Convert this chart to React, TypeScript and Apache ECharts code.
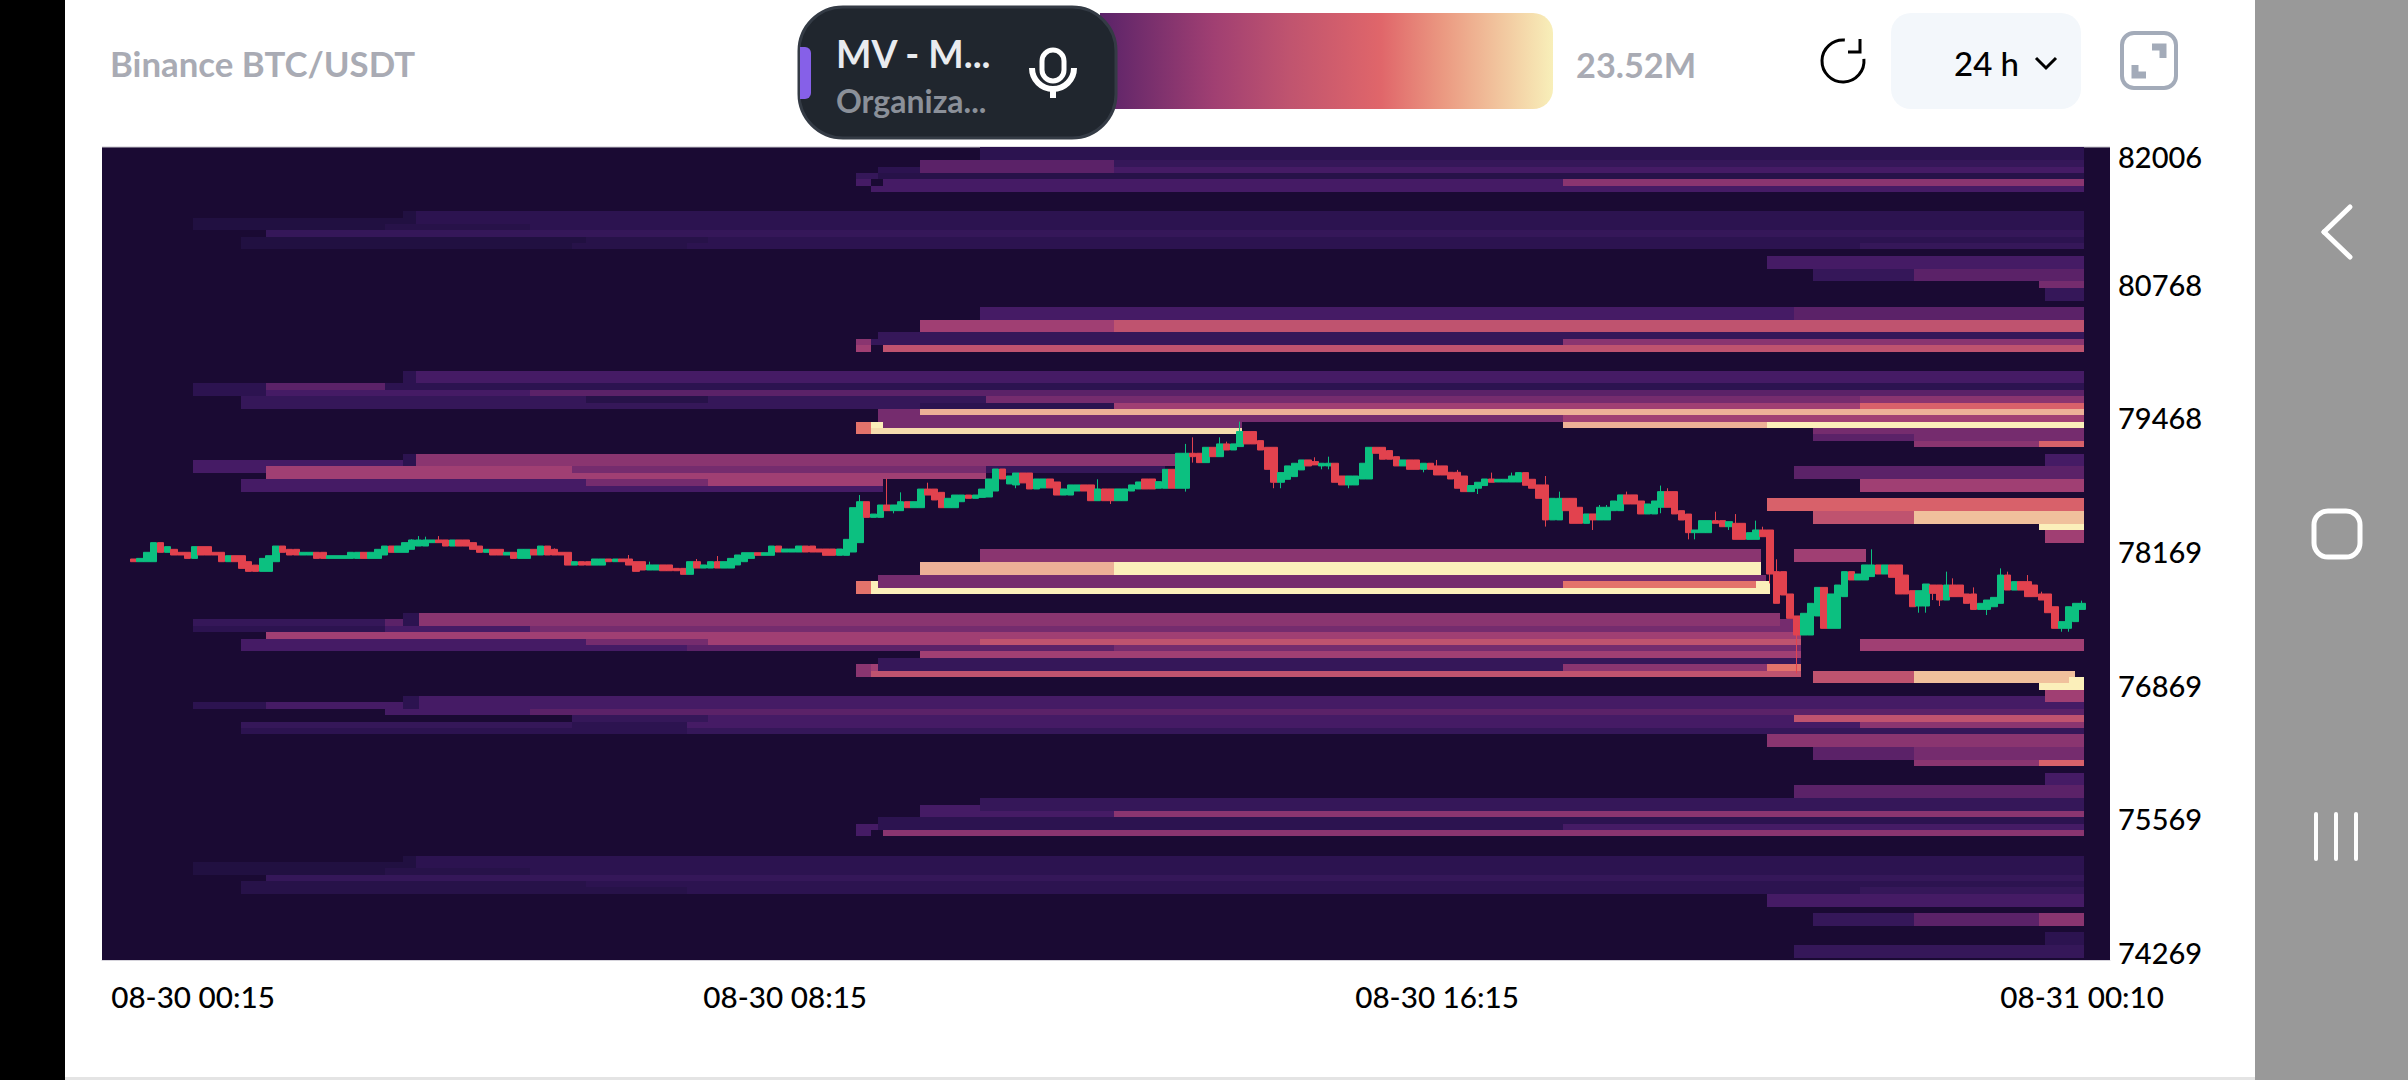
import React, { useEffect, useRef } from "react";
import * as echarts from "echarts";

// ---------- tick labels ----------
const priceTicks = [82006, 80768, 79468, 78169, 76869, 75569, 74269];
const timeTicks = [8.8, 96, 192, 287];
const timeLabels = ["08-30 00:15", "08-30 08:15", "08-30 16:15", "08-31 00:10"];

// ---------- 5-minute candles (index 0 = 08-30 00:15) ----------
const opens = [
  78095,78069,78069,78069,78254,78160,78189,78160,78160,78101,78215,78215,78160,78160,78069,78127,78127,78069,78036,77975,
  77975,78069,78221,78189,78189,78134,78134,78160,78160,78101,78101,78101,78101,78101,78160,78101,78101,78134,78221,78160,
  78160,78189,78221,78221,78254,78280,78280,78221,78280,78280,78254,78221,78160,78189,78189,78134,78160,78101,78101,78189,
  78134,78221,78189,78160,78160,78036,78069,78069,78036,78036,78095,78069,78095,78095,78069,78069,77988,77988,78037,78037,
  78004,78004,77946,78069,78007,78007,78069,78007,78007,78037,78069,78101,78156,78131,78131,78221,78163,78163,78163,78221,
  78221,78192,78192,78192,78131,78131,78163,78254,78652,78500,78500,78620,78565,78565,78652,78594,78594,78775,78775,78743,
  78594,78594,78652,78717,78685,78694,78698,78756,78970,78825,78815,78931,78931,78776,78786,78873,78844,78717,78717,78756,
  78815,78815,78662,78776,78776,78662,78662,78756,78776,78873,78873,78783,78783,78967,78783,78783,79123,79123,79032,79181,
  79090,79214,79155,79188,79334,79334,79246,79181,79181,78841,78870,78896,78961,79058,79042,79000,79000,79026,78902,78815,
  78815,78873,78873,79181,79181,79149,79090,79000,79058,79058,78967,79026,79000,79000,78938,78938,78902,78750,78783,78809,
  78873,78844,78844,78844,78844,78935,78870,78815,78815,78475,78475,78685,78685,78598,78442,78533,78475,78475,78565,78565,
  78718,78718,78659,78533,78533,78598,78750,78750,78565,78532,78351,78351,78351,78468,78468,78409,78442,78442,78286,78286,
  78377,78377,77972,77972,77755,77541,77356,77356,77541,77819,77421,77421,77729,77972,77891,77891,77924,78037,77949,78037,
  78037,77939,77787,77638,77638,77842,77842,77696,77842,77842,77755,77755,77605,77605,77631,77664,77939,77793,77875,77875,
  77842,77755,77755,77631,77421,77421,77486,77605,
];
const closes = [
  78069,78101,78160,78254,78160,78215,78134,78134,78101,78215,78134,78134,78134,78069,78127,78069,78004,77975,77975,78101,
  78127,78221,78160,78134,78134,78160,78160,78101,78101,78127,78127,78127,78160,78160,78101,78160,78189,78221,78160,78221,
  78254,78280,78280,78280,78280,78254,78221,78280,78221,78221,78189,78160,78189,78134,78134,78160,78101,78189,78189,78134,
  78221,78134,78134,78134,78036,78069,78036,78036,78095,78095,78069,78095,78069,78036,77975,77988,78037,78037,77981,77981,
  77981,77946,78069,78007,78037,78069,78007,78069,78101,78134,78156,78156,78131,78156,78221,78163,78192,78192,78221,78163,
  78163,78163,78131,78131,78192,78286,78594,78652,78500,78532,78620,78565,78620,78652,78594,78652,78775,78717,78669,78594,
  78685,78717,78717,78685,78717,78775,78873,78970,78873,78902,78931,78835,78776,78873,78873,78786,78717,78776,78815,78815,
  78756,78662,78776,78662,78662,78776,78776,78815,78844,78776,78776,78847,78967,78783,79123,79123,79090,79032,79181,79090,
  79214,79155,79214,79334,79214,79214,79155,78967,78841,78935,79000,79026,79058,79000,79010,79026,79026,78841,78815,78902,
  78902,79026,79181,79123,79065,79065,79000,79058,78967,78967,79026,78967,78912,78912,78873,78783,78750,78809,78841,78873,
  78841,78870,78870,78902,78935,78812,78783,78685,78475,78685,78685,78565,78442,78442,78533,78475,78598,78598,78659,78718,
  78630,78630,78533,78630,78659,78750,78598,78533,78474,78351,78377,78468,78468,78442,78409,78458,78286,78286,78351,78377,
  78312,77949,77664,77745,77518,77356,77567,77664,77819,77421,77755,77842,77972,77891,77949,78037,78037,77949,78037,77917,
  77755,77755,77631,77787,77852,77761,77696,77842,77729,77729,77664,77605,77664,77696,77722,77939,77793,77875,77793,77729,
  77729,77696,77573,77421,77486,77631,77664,77664,
];
const wickHighs = [
  [41,78286],[42,78318],[43,78312],[45,78318],[62,78198],[73,78134],[76,78069],[83,78095],[86,78124],[107,78717],
  [111,78876],[113,78743],[117,78837],[142,78870],[155,79214],[156,79278],[160,79278],[161,79236],[163,79431],[174,79084],
  [176,79090],[192,79058],[195,78961],[200,78935],[203,78935],[208,78902],[210,78750],[216,78620],[217,78620],[220,78750],
  [225,78809],[226,78783],[233,78555],[236,78532],[239,78468],[240,78409],[242,78092],[256,78189],[267,77972],[268,77907],
  [271,77819],[275,78004],[276,77972],[279,77939],[281,77777],[287,77690],
];
const wickLows = [
  [111,78630],[112,78539],[130,78783],[144,78630],[155,78750],[156,79032],[168,78783],[169,78783],[175,78967],[176,78967],
  [179,78783],[190,78938],[198,78727],[208,78410],[215,78377],[225,78540],[229,78286],[230,78286],[235,78377],[241,77858],
  [245,76983],[263,77573],[264,77573],[265,77696],[266,77638],[273,77550],[284,77388],[285,77388],
];

// ---------- liquidation heat: price bucket, first candle, last candle, intensity ----------
const bandsAbove = [
  [0,124.7,287.2,3],[1,124.7,287.2,3],[2,115.8,144.4,6],[2,144.4,287.2,4],[3,109.6,115.8,3],[3,115.8,144.4,6],[3,144.4,287.2,5],
  [4,106.5,109.6,4],[4,109.6,287.2,2],[5,106.5,108.7,5],[5,110.4,210.6,5],[5,210.6,287.2,8],[6,108.7,287.2,5],
  [10,39.7,41.7,1],[10,41.7,287.2,3],[11,8.8,41.7,1],[11,41.7,287.2,3],[12,8.8,37,1],[12,37,58.4,2],[12,58.4,287.2,3],
  [13,19.5,287.2,4],[14,15.9,66.6,1],[14,66.6,84.7,2],[14,84.7,287.2,3],[15,15.9,64.6,1],[15,64.6,81.6,2],[15,81.6,254.3,3],[15,254.3,287.2,4],
  [17,240.6,287.2,5],[18,240.6,287.2,5],[19,247.3,262.2,4],[19,262.2,287.2,6],[20,247.3,262.2,4],[20,262.2,287.2,6],
  [21,280.6,287.2,7],[22,281.5,287.2,4],[23,281.5,287.2,4],
  [25,124.7,244.5,5],[25,244.5,287.2,6],[26,124.7,244.5,5],[26,244.5,287.2,6],
  [27,115.8,144.4,9],[27,144.4,287.2,10],[28,115.8,144.4,9],[28,144.4,287.2,10],[29,109.6,287.2,4],
  [30,106.5,108.7,8],[30,108.7,210.6,4],[30,210.6,287.2,8],[31,106.5,108.7,9],[31,110.4,287.2,10],
];
const bandsNearHigh = [
  [35,39.7,41.7,3],[35,41.7,287.2,5],[36,39.7,41.7,3],[36,41.7,287.2,5],
  [37,8.8,19.5,3],[37,19.5,37,6],[37,37,287.2,3],[38,8.8,19.5,3],[38,19.5,58.4,5],[38,58.4,287.2,6],
  [39,15.9,66.6,4],[39,66.6,84.7,2],[39,84.7,125.5,4],[39,125.5,254.3,7],[39,254.3,287.2,8],
  [40,15.9,115.8,4],[40,115.8,144.4,3],[40,144.4,254.3,9],[40,254.3,287.2,11],
  [41,109.6,115.8,7],[41,115.8,287.2,13],[42,109.6,210.6,7],[42,210.6,287.2,9],
  [43,106.5,108.7,12],[43,108.7,110.4,15],[43,110.4,163.3,7],[43,210.6,240.6,13],[43,240.6,287.2,15],
  [44,106.5,108.7,12],[44,108.7,163.3,14],[44,247.3,287.2,7],
  [45,247.3,262.2,6],[45,262.2,287.2,7],[46,262.2,280.6,8],[46,280.6,287.2,11],
  [48,39.7,41.7,3],[48,41.7,153.6,8],[48,281.5,287.2,5],
  [49,8.8,39.7,5],[49,39.7,41.7,3],[49,41.7,153.6,8],[49,281.5,287.2,5],
  [50,8.8,19.5,5],[50,19.5,64.6,9],[50,64.6,125.5,7],[50,125.5,152,4],[50,244.5,287.2,6],
  [51,19.5,64.6,9],[51,64.6,125.5,9],[51,244.5,287.2,6],
  [52,15.9,66.6,5],[52,66.6,84.7,7],[52,84.7,110.4,9],[52,254.3,287.2,9],[53,15.9,110.4,5],[53,254.3,287.2,9],
  [55,240.6,287.2,11],[56,240.6,287.2,11],[57,247.3,262.2,10],[57,262.2,287.2,16],[58,247.3,262.2,10],[58,262.2,287.2,16],
  [59,280.6,287.2,15],[60,281.5,287.2,9],[61,281.5,287.2,9],
];
const bandsNearPrice = [
  [63,124.7,239.7,8],[63,244.5,255.2,9],[64,124.7,239.7,8],[64,244.5,255.2,9],
  [65,115.8,144.4,13],[65,144.4,239.7,15],[66,115.8,144.4,13],[66,144.4,239.7,15],[67,109.6,240.5,7],
  [68,106.5,108.7,12],[68,108.7,109.6,15],[68,109.6,210.6,7],[68,210.6,239,12],[68,239,241,15],
  [69,106.5,108.7,12],[69,108.7,241,15],
  [73,39.7,42,3],[73,42,242.5,8],[74,8.8,37,4],[74,37,39.7,6],[74,39.7,42,3],[74,42,242.5,8],[74,242.5,244.5,7],
  [75,8.8,37,3],[75,37,58.4,5],[75,58.4,244.5,7],
  [76,19.5,66,9],[76,66,245.6,9],[77,15.9,66.6,5],[77,66.6,84.7,7],[77,84.7,124.7,9],[77,124.7,245.6,10],
  [77,254.3,287.2,9],[78,254.3,287.2,9],
  [78,15.9,81.6,5],[78,81.6,144.4,6],[78,144.4,245.6,7],[79,115.8,245.6,9],[80,109.6,245.6,4],
  [81,106.5,108.7,8],[81,108.7,109.6,9],[81,109.6,210.6,4],[81,210.6,240.6,8],[81,240.6,245.6,12],
  [82,106.5,108.7,8],[82,108.7,110.4,10],[82,110.4,245.6,10],
  [82,247.3,262.2,10],[82,262.2,286,16],[83,247.3,262.2,10],[83,262.2,285,16],[83,285,287.2,15],[84,280.6,287.2,15],[85,281.5,287.2,9],
];
const bandsBelow = [
  [86,39.7,42,3],[86,42,281.5,5],[86,281.5,287.2,9],[87,8.8,19.5,3],[87,19.5,39.7,5],[87,39.7,42,3],[87,42,287.2,5],
  [88,37,58.4,5],[88,58.4,287.2,6],[89,64.6,84.7,4],[89,84.7,244.5,5],[89,244.5,287.2,10],
  [90,15.9,64.6,4],[90,64.6,81.6,3],[90,81.6,254.3,5],[90,254.3,287.2,8],[91,15.9,81.6,3],[91,81.6,287.2,4],
  [92,240.6,287.2,8],[93,240.6,287.2,8],[94,247.3,262.2,6],[94,262.2,287.2,7],[95,247.3,262.2,6],[95,262.2,287.2,7],
  [96,262.2,280.6,8],[96,280.6,287.2,11],[98,281.5,287.2,5],[99,281.5,287.2,5],[100,244.5,287.2,6],[101,244.5,287.2,6],
  [102,124.7,287.2,4],[103,115.8,124.7,5],[103,124.7,287.2,4],[104,115.8,144.4,5],[104,144.4,287.2,8],[105,109.6,287.2,3],
  [106,106.5,109.6,5],[106,109.6,210.6,3],[106,210.6,287.2,5],[107,106.5,108.7,5],[107,110.4,287.2,8],
  [111,39.7,41.7,1],[111,41.7,287.2,3],[112,8.8,41.7,1],[112,41.7,287.2,3],[113,8.8,37,1],[113,37,58.4,2],[113,58.4,287.2,3],
  [114,19.5,287.2,4],[115,15.9,66.6,2],[115,66.6,84.7,3],[115,84.7,287.2,3],[116,15.9,81.6,2],[116,81.6,254.3,3],[116,254.3,287.2,4],
  [117,240.6,287.2,5],[118,240.6,287.2,5],[120,247.3,262.2,4],[120,262.2,280.6,6],[120,280.6,287.2,8],
  [121,247.3,262.2,4],[121,262.2,280.6,6],[121,280.6,287.2,8],[123,281.5,287.2,3],[124,281.5,287.2,3],[125,244.5,287.2,4],[126,244.5,287.2,4],
];

const heatPalette = ["#1a0a33","#211041","#271249","#2c1350","#351759","#451b65","#5b2268","#752c6e","#8a3570","#a03f73","#bf536f","#d8616a","#e3736b","#edb097","#f5dcae","#fbefba","#f0c09c"];
const bucketTop = 82097;
const bucketSize = 62.03;

const FONT = "Lato, Roboto, sans-serif";

function buildOption() {
  const candles = closes.map((c, i) => {
    const o = opens[i];
    const hi = wickHighs.find((w) => w[0] === i);
    const lo = wickLows.find((w) => w[0] === i);
    return [i, o, c, lo ? lo[1] : Math.min(o, c), hi ? hi[1] : Math.max(o, c)];
  });
  const bands = [...bandsAbove, ...bandsNearHigh, ...bandsNearPrice, ...bandsBelow];
  const legendFill = new echarts.graphic.LinearGradient(0, 0, 1, 0, [
    { offset: 0, color: "#5a2369" },
    { offset: 0.25, color: "#a03f72" },
    { offset: 0.42, color: "#c0546f" },
    { offset: 0.62, color: "#e0666a" },
    { offset: 0.76, color: "#eb9a82" },
    { offset: 1, color: "#f8efb9" },
  ]);
  const bandStroke = { fill: "none", stroke: "#ffffff", lineCap: "round" };
  const greyText = { fill: "#a9abb4", textVerticalAlign: "middle" };
  return {
    animation: false,
    grid: { left: 102, top: 147, width: 2008, height: 813, show: true, backgroundColor: "#1a0a33", borderWidth: 0 },
    xAxis: {
      type: "value", min: -4.61, max: 291.1, splitLine: { show: false },
      axisLine: { show: true, lineStyle: { color: "#d6d4dc", width: 1 } },
      axisTick: { show: false },
      axisLabel: {
        customValues: timeTicks, margin: 21, color: "#000000",
        fontFamily: FONT, fontSize: 29.7, fontWeight: 500,
        formatter: (v: number) => timeLabels[timeTicks.indexOf(v)] ?? "",
      },
    },
    yAxis: {
      type: "value", position: "right", min: 74196, max: 82101, splitLine: { show: false },
      axisLine: { show: false }, axisTick: { show: false },
      axisLabel: {
        customValues: priceTicks, margin: 8, color: "#000000", fontFamily: FONT, fontSize: 29, fontWeight: 500,
        padding: [0, 0, 6, 0], formatter: (v: number) => String(v),
      },
    },
    series: [
      {
        type: "custom", silent: true, z: 1, data: bands, encode: { x: [1, 2], y: 0 },
        renderItem: (_p: any, api: any) => {
          const r = api.value(0);
          const tl = api.coord([api.value(1), bucketTop - r * bucketSize]);
          const br = api.coord([api.value(2), bucketTop - (r + 1) * bucketSize]);
          const x = Math.round(tl[0]), y = Math.round(tl[1]);
          return {
            type: "rect",
            shape: { x, y, width: Math.round(br[0]) - x, height: Math.round(br[1]) - y },
            style: { fill: heatPalette[api.value(3)] },
          };
        },
      },
      {
        type: "candlestick", silent: true, z: 3, barWidth: 7, data: candles,
        encode: { x: 0, y: [1, 2, 3, 4] },
        itemStyle: { color: "#0cc080", color0: "#e2424e", borderColor: "#0cc080", borderColor0: "#e2424e", borderWidth: 1 },
      },
    ],
    graphic: [
      // device frame
      { type: "rect", silent: true, shape: { x: 0, y: 0, width: 65, height: 1080 }, style: { fill: "#000000" } },
      { type: "rect", silent: true, shape: { x: 2255, y: 0, width: 153, height: 1080 }, style: { fill: "#999999" } },
      { type: "rect", silent: true, shape: { x: 65, y: 1077, width: 2190, height: 3 }, style: { fill: "#e4e4e4" } },
      { type: "line", silent: true, shape: { x1: 2350, y1: 207, x2: 2324, y2: 232 }, style: { ...bandStroke, lineWidth: 5 } },
      { type: "line", silent: true, shape: { x1: 2324, y1: 232, x2: 2350, y2: 257 }, style: { ...bandStroke, lineWidth: 5 } },
      { type: "rect", silent: true, shape: { x: 2314, y: 511, width: 46, height: 46, r: 14 }, style: { ...bandStroke, lineWidth: 5 } },
      { type: "line", silent: true, shape: { x1: 2316, y1: 814, x2: 2316, y2: 859 }, style: { ...bandStroke, lineWidth: 4 } },
      { type: "line", silent: true, shape: { x1: 2336, y1: 814, x2: 2336, y2: 859 }, style: { ...bandStroke, lineWidth: 4 } },
      { type: "line", silent: true, shape: { x1: 2356, y1: 814, x2: 2356, y2: 859 }, style: { ...bandStroke, lineWidth: 4 } },
      // plot top edge
      { type: "line", silent: true, shape: { x1: 102, y1: 147, x2: 2110, y2: 147 }, style: { stroke: "#c6c4cc", lineWidth: 1 } },
      // header
      { type: "text", silent: true, x: 110, y: 63, style: { ...greyText, font: `700 34.8px ${FONT}`, text: "Binance BTC/USDT" } },
      { type: "rect", silent: true, shape: { x: 1100, y: 13, width: 453, height: 96, r: [0, 20, 20, 0] }, style: { fill: legendFill } },
      { type: "text", silent: true, x: 1576, y: 64, style: { ...greyText, font: `700 34.3px ${FONT}`, text: "23.52M" } },
      { type: "rect", silent: true, shape: { x: 799, y: 7, width: 317, height: 131, r: 44 }, style: { fill: "#20262e", stroke: "#343b45", lineWidth: 3 } },
      { type: "rect", silent: true, shape: { x: 800, y: 47, width: 11, height: 52, r: [0, 6, 6, 0] }, style: { fill: "#8660e8" } },
      { type: "text", silent: true, x: 836, y: 53, style: { fill: "#e9ebef", font: `700 37.5px ${FONT}`, textVerticalAlign: "middle", text: "MV - M..." } },
      { type: "text", silent: true, x: 836, y: 100, style: { fill: "#8b9099", font: `700 32px ${FONT}`, textVerticalAlign: "middle", text: "Organiza..." } },
      // microphone
      { type: "rect", silent: true, shape: { x: 1042, y: 50, width: 22, height: 31, r: 11 }, style: { fill: "none", stroke: "#ffffff", lineWidth: 5 } },
      { type: "arc", silent: true, shape: { cx: 1053, cy: 68, r: 21, startAngle: 0, endAngle: Math.PI, clockwise: true }, style: { fill: "none", stroke: "#ffffff", lineWidth: 6 } },
      { type: "line", silent: true, shape: { x1: 1053, y1: 89, x2: 1053, y2: 98 }, style: { stroke: "#ffffff", lineWidth: 6 } },
      // refresh
      { type: "arc", silent: true, shape: { cx: 1843, cy: 61, r: 21, startAngle: -0.1, endAngle: (-85 * Math.PI) / 180 + 2 * Math.PI, clockwise: true }, style: { fill: "none", stroke: "#000000", lineWidth: 3 } },
      { type: "polyline", silent: true, shape: { points: [[1848, 52], [1860, 52], [1860, 39]] }, style: { fill: "none", stroke: "#000000", lineWidth: 3 } },
      // period selector
      { type: "rect", silent: true, shape: { x: 1891, y: 13, width: 190, height: 96, r: 20 }, style: { fill: "#f3f7fb" } },
      { type: "text", silent: true, x: 1954, y: 63, style: { fill: "#000000", font: `500 33px ${FONT}`, textVerticalAlign: "middle", text: "24 h" } },
      { type: "polyline", silent: true, shape: { points: [[2036, 58], [2046, 68], [2056, 58]] }, style: { fill: "none", stroke: "#000000", lineWidth: 3 } },
      // expand
      { type: "rect", silent: true, shape: { x: 2122, y: 33, width: 54, height: 55, r: 12 }, style: { fill: "none", stroke: "#a3abb9", lineWidth: 4 } },
      { type: "polyline", silent: true, shape: { points: [[2152, 47], [2163, 47], [2163, 58]] }, style: { fill: "none", stroke: "#a3abb9", lineWidth: 7 } },
      { type: "polyline", silent: true, shape: { points: [[2135, 65], [2135, 75], [2146, 75]] }, style: { fill: "none", stroke: "#a3abb9", lineWidth: 7 } },
    ],
  };
}

export default function App() {
  const ref = useRef<HTMLDivElement>(null);
  useEffect(() => {
    const chart = echarts.init(ref.current!, null, { renderer: "svg" });
    chart.setOption(buildOption() as any);
    return () => chart.dispose();
  }, []);
  return <div ref={ref} style={{ position: "fixed", left: 0, top: 0, width: 2408, height: 1080, background: "#ffffff" }} />;
}
